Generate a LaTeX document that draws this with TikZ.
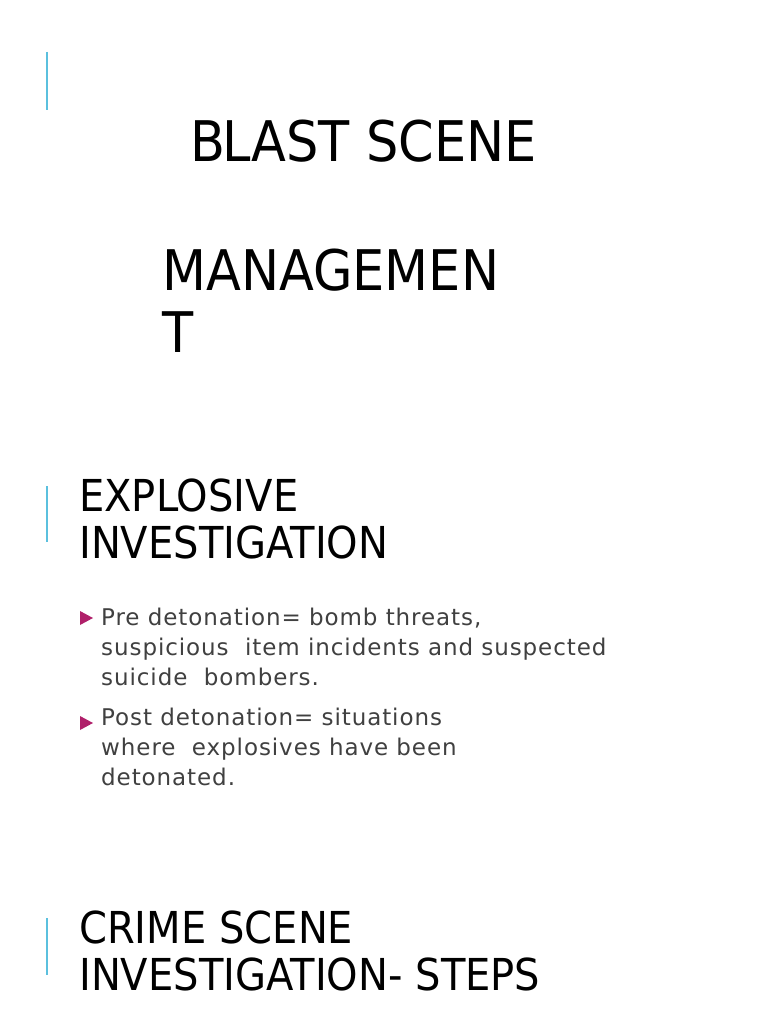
\documentclass[tikz,border=0pt]{standalone}
\usepackage{fontspec}
\setmainfont{DejaVu Sans}
\newfontfamily\narrowf[FakeStretch=0.91]{DejaVu Sans}
\newfontfamily\widef[LetterSpace=4]{DejaVu Sans}
\definecolor{acc}{HTML}{5BC0DE}
\definecolor{bul}{HTML}{B0206A}
\definecolor{txt}{HTML}{404040}
\begin{document}
\begin{tikzpicture}[x=1pt,y=-1pt,
  bar/.style={draw=acc,line width=1.2pt},
  big/.style={anchor=base west,inner sep=0,font=\narrowf\fontsize{56}{60}\selectfont},
  head/.style={anchor=base west,inner sep=0,font=\narrowf\fontsize{44}{48}\selectfont},
  body/.style={anchor=base west,inner sep=0,text=txt,font=\widef\fontsize{23}{30}\selectfont},
  tri/.style={fill=bul,draw=none}]
\useasboundingbox (0,0) rectangle (768,1024);
\fill[white] (0,0) rectangle (768,1024);
\coordinate (b1a) at (47,52); \coordinate (b1b) at (47,110);
\draw[bar] (b1a) -- (b1b);
\node[big] (t1) at (190,162) {B\kern-3pt LAST SCENE};
\node[big] (t2) at (162,290) {MANAGEMEN};
\node[big] (t3) at (162,352) {T};
\coordinate (b2a) at (47,486); \coordinate (b2b) at (47,542);
\draw[bar] (b2a) -- (b2b);
\node[head] (h1) at (79,511) {EXPLOSIVE};
\node[head] (h2) at (79,558) {INVESTIGATION};
\fill[tri] (80,611) -- (93,618) -- (80,625) -- cycle;
\node[body] (p1) at (101,625) {Pre detonation= bomb threats,};
\node[body] (p2) at (101,655) {suspicious\ \ item incidents and suspected};
\node[body] (p3) at (101,685) {suicide\ \ bombers.};
\fill[tri] (80,716) -- (93,723) -- (80,730) -- cycle;
\node[body] (q1) at (101,725) {Post detonation= situations};
\node[body] (q2) at (101,755) {where\ \ explosives have been};
\node[body] (q3) at (101,785) {detonated.};
\coordinate (b3a) at (47,918); \coordinate (b3b) at (47,975);
\draw[bar] (b3a) -- (b3b);
\node[head] (c1) at (79,943) {CRIME SCENE};
\node[head] (c2) at (79,990) {INVESTIGATION- STEPS};
\end{tikzpicture}
\end{document}
